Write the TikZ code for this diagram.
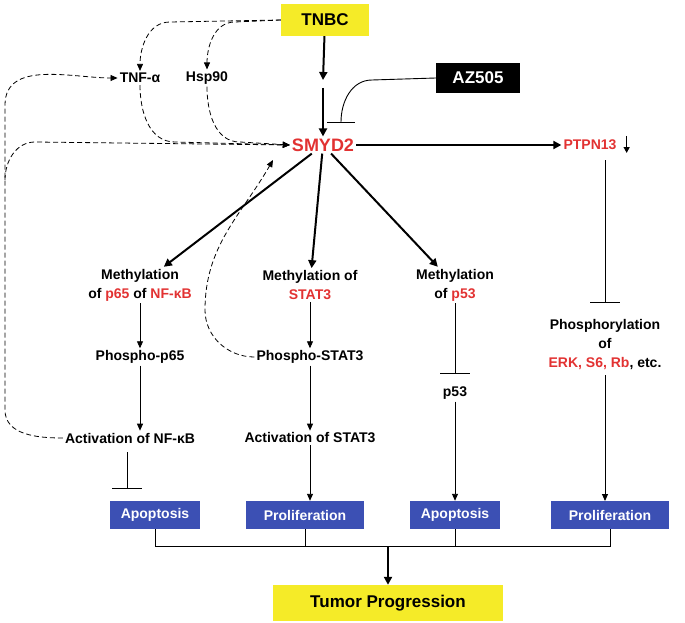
\documentclass[tikz,border=0pt]{standalone}
\usepackage{fontspec}
\setmainfont{Liberation Sans}
\usetikzlibrary{arrows.meta,positioning}
\definecolor{fred}{RGB}{226,50,50}
\definecolor{fyel}{RGB}{245,235,40}
\definecolor{fblu}{RGB}{60,80,180}
\begin{document}
\begin{tikzpicture}[x=1pt,y=-1pt,
  txt/.style={font=\bfseries\fontsize{14}{19}\selectfont,align=center,inner sep=2pt},
  redtxt/.style={txt,text=fred},
  ybox/.style={txt,fill=fyel,minimum height=32pt,font=\bfseries\fontsize{17}{19}\selectfont},
  bbox/.style={txt,fill=fblu,text=white,minimum height=28pt,minimum width=90pt},
  thick arr/.style={line width=2pt,-{Triangle[length=8pt,width=8pt]}},
  thin arr/.style={line width=0.9pt,-{Triangle[length=7pt,width=6pt]}},
  dash arr/.style={line width=0.8pt,dash pattern=on 5pt off 3pt,-{Triangle[length=7pt,width=6pt]}},
  bar/.style={line width=0.9pt}
]
\useasboundingbox (0,0) rectangle (685,623);
\node[ybox,minimum width=88pt] (tnbc) at (325,20) {TNBC};
\node[txt,fill=black,text=white,minimum width=84pt,minimum height=30pt,font=\bfseries\fontsize{17}{19}\selectfont] (az) at (478,78) {AZ505};
\node[txt] (tnf) at (140,78) {TNF-α};
\node[txt] (hsp) at (207,78) {Hsp90};
\node[redtxt,font=\bfseries\fontsize{18}{20}\selectfont] (smyd) at (323,145) {SMYD2};
\node[redtxt] (ptpn) at (590,145) {PTPN13};
\node[txt] (m65) at (140,285) {Methylation\\of \textcolor{fred}{p65} of \textcolor{fred}{NF-κB}};
\node[txt] (mst) at (310,285) {Methylation of\\\textcolor{fred}{STAT3}};
\node[txt] (m53) at (455,285) {Methylation\\of \textcolor{fred}{p53}};
\node[txt] (p65) at (140,357) {Phospho-p65};
\node[txt] (pst) at (310,357) {Phospho-STAT3};
\node[txt] (p53) at (455,393) {p53};
\node[txt] (phos) at (605,345) {Phosphorylation\\of\\\textcolor{fred}{ERK, S6, Rb}, etc.};
\node[txt] (anf) at (130,438) {Activation of NF-κB};
\node[txt] (ast) at (310,438) {Activation of STAT3};
\node[bbox] (ap1) at (155,515) {Apoptosis};
\node[bbox,minimum width=118pt] (pr1) at (305,515) {Proliferation};
\node[bbox] (ap2) at (455,515) {Apoptosis};
\node[bbox,minimum width=118pt] (pr2) at (610,515) {Proliferation};
\node[ybox,minimum width=230pt,minimum height=36pt] (tum) at (388,603) {Tumor Progression};
% TNBC to SMYD2
\coordinate (mid) at (323,80);
\coordinate (mid2) at (323,88);
\draw[thick arr] (tnbc) -- (mid);
\draw[thick arr] (mid2) -- (smyd);
% AZ505 inhibition
\coordinate (azbend) at (372,80);
\coordinate (azbar) at (341,122);
\draw[bar] (az.west) -- (azbend) to[out=180,in=90] (azbar);
\draw[bar] (327,122) -- (355,122);
% dashed from TNBC
\draw[dash arr] (tnbc.west) -- (170,22) to[out=180,in=90] (tnf.north);
\draw[dash arr] (tnbc.west) -- (235,22) to[out=180,in=90] (hsp.north);
\draw[dash arr] (tnf.south) to[out=-90,in=180] (175,142) -- (smyd.west);
\draw[dash arr] (hsp.south) to[out=-90,in=180] (240,142) -- (smyd.west);
% NF-kB feedback
\draw[dash arr] (anf.west) to[out=180,in=-90] (5,410) -- (5,105) to[out=90,in=180] (tnf.west);
\draw[dash arr] (5,180) to[out=90,in=180] (35,142) -- (smyd.west);
\draw[dash arr] (pst.west) to[out=180,in=-90] (205,310) to[out=90,in=-120] (273,160);
% SMYD2 outputs
\draw[thick arr] (smyd) -- (ptpn);
\draw[line width=1.4pt,-{Triangle[length=6pt,width=6pt]}] (ptpn.east) ++(8,-9) -- ++(0,17);
\draw[thick arr] (smyd) -- (m65);
\draw[thick arr] (smyd) -- (mst);
\draw[thick arr] (smyd) -- (m53);
% chains
\draw[thin arr] (m65.south) -- (m65.south |- p65.north);
\draw[thin arr] (p65.south) -- (p65.south |- anf.north);
\draw[thin arr] (mst.south) -- (mst.south |- pst.north);
\draw[thin arr] (pst.south) -- (pst.south |- ast.north);
\draw[thin arr] (ast.south) -- (ast.south |- pr1.north);
\draw[thin arr] (p53.south) -- (ap2.north);
\draw[thin arr] (605,375) -- (605,501);
\draw[bar] (127,452) -- (127,488) (112,488) -- (142,488);
\draw[bar] (m53.south) -- (455,373) (440,373) -- (470,373);
\draw[bar] (605,160) -- (605,302) (590,302) -- (620,302);
% bottom bracket
\draw[bar] (ap1.south) -- (155,546) -- (610,546) -- (pr2.south);
\draw[bar] (pr1.south) -- (305,546);
\draw[bar] (ap2.south) -- (455,546);
\draw[thick arr] (388,546) -- (tum);
\end{tikzpicture}
\end{document}
